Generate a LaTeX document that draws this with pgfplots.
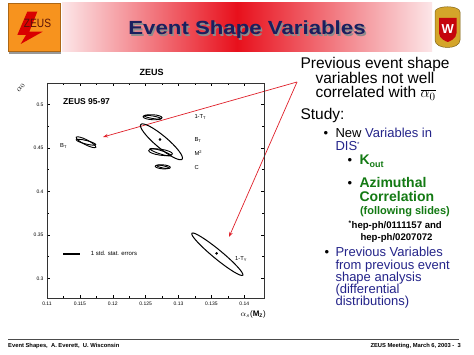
\documentclass[border=0pt]{standalone}
\usepackage{pgfplots}
\pgfplotsset{compat=1.18}
\usepackage{fontspec}
\setmainfont{Liberation Sans}
\usetikzlibrary{shapes.geometric,arrows.meta}
\definecolor{bannerpale}{HTML}{FCE6E8}
\definecolor{bannerred}{HTML}{E8101C}
\definecolor{titlenavy}{HTML}{1A1F5E}
\definecolor{txtnavy}{HTML}{24248A}
\definecolor{txtgreen}{HTML}{137A13}
\definecolor{zeusorange}{HTML}{F7931E}
\definecolor{zeustext}{HTML}{5A1208}
\definecolor{arrowred}{HTML}{E0202A}
\definecolor{uwgold}{HTML}{D4A52A}
\definecolor{uwred}{HTML}{C5050C}
\newcommand{\fs}[1]{\fontsize{#1}{#1}\selectfont}
\begin{document}
\begin{tikzpicture}
\begin{scope}[x=1pt,y=-1pt]
\useasboundingbox (0,0) rectangle (474,355);
\fill[white] (0,0) rectangle (474,355);
% banner
\shade[left color=bannerpale, right color=bannerred] (62,3) rectangle (237,52);
\shade[left color=bannerred, right color=bannerpale] (237,3) rectangle (432,52);
% title
\node[anchor=base, text=black!45] at (248.5,36.2) {\scalebox{1.17}[1]{\fs{19}\bfseries Event Shape Variables}};
\node[anchor=base, text=titlenavy] at (247,34.7) {\scalebox{1.17}[1]{\fs{19}\bfseries Event Shape Variables}};
% ZEUS logo
\fill[black!40] (9,50) rectangle (61,54);
\fill[zeusorange] (8,3) rectangle (60,51);
\draw[zeusorange!70!black, line width=0.4] (8,3) rectangle (60,51);
\fill[red!85!black] (27.3,11.7) -- (37.3,11.7) -- (29.3,31.7) -- (42.7,31.7) -- (20.7,44) -- (26,35) -- (17.3,35) -- cycle;
\node[text=zeustext] at (37.5,23.5) {\scalebox{0.85}[1]{\fs{12}ZEUS}};
% UW crest
\fill[uwgold] (435,12) .. controls (435,5) and (460,5) .. (460,12) -- (460,40) .. controls (460,50) and (435,50) .. (435,40) -- cycle;
\draw[uwgold!60!black, line width=0.5] (435,12) .. controls (435,5) and (460,5) .. (460,12) -- (460,40) .. controls (460,50) and (435,50) .. (435,40) -- cycle;
\fill[uwred] (439,18) -- (456.5,18) -- (456.5,33) .. controls (456.5,39) and (449,41.5) .. (447.7,42) .. controls (446.5,41.5) and (439,39) .. (439,33) -- cycle;
\node[text=white] at (447.7,29) {\fs{13}\bfseries W};
% right-hand text
\node[anchor=base west] at (297,69) {\fs{15.5}Previous event shape};
\node[anchor=base west] at (312,83.5) {\fs{15.5}variables not well};
\node[anchor=base west] at (312,98) {\fs{15.5}correlated with $\overline{\alpha_0}$};
\node[anchor=base west] at (297,120) {\fs{15.5}Study:};
\node[anchor=base west] at (320,138) {\fs{13}•};
\node[anchor=base west] at (332,138) {\fs{13}New \textcolor{txtnavy}{Variables in}};
\node[anchor=base west, text=txtnavy] at (332,150.5) {\fs{13}DIS\textsuperscript{\fs{6}*}};
\node[anchor=base west] at (344,165) {\fs{13}•};
\node[anchor=base west, text=txtgreen] at (356,165) {\fs{14}\bfseries K\textsubscript{\fs{9}out}};
\node[anchor=base west] at (344,188) {\fs{13}•};
\node[anchor=base west, text=txtgreen] at (356,188) {\fs{14}\bfseries Azimuthal};
\node[anchor=base west, text=txtgreen] at (356,202) {\fs{14}\bfseries Correlation};
\node[anchor=base west, text=txtgreen] at (356.5,215) {\fs{11}\bfseries (following slides)};
\node[anchor=base west] at (345,229) {\fs{9.6}\bfseries \textsuperscript{*}hep-ph/0111157 and};
\node[anchor=base west] at (357,240.5) {\fs{9.6}\bfseries hep-ph/0207072};
\node[anchor=base west] at (321,257) {\fs{13}•};
\node[anchor=base west, text=txtnavy] at (332,257) {\fs{13}Previous Variables};
\node[anchor=base west, text=txtnavy] at (332,270) {\fs{13}from previous event};
\node[anchor=base west, text=txtnavy] at (332,282) {\fs{13}shape analysis};
\node[anchor=base west, text=txtnavy] at (332,294) {\fs{13}(differential};
\node[anchor=base west, text=txtnavy] at (332,305.5) {\fs{13}distributions)};
% footer
\draw[black!70, line width=0.8] (8,339) -- (459,339);
\node[anchor=base west, inner sep=0] at (8,348) {\fs{5.8}\bfseries Event Shapes,\ \ A. Everett,\ \ U. Wisconsin};
\node[anchor=base east, inner sep=0] at (461,348) {\fs{5.8}\bfseries ZEUS Meeting, March 6, 2003 -\ \ 3};
% chart texts
\node[anchor=base, inner sep=0] at (151.7,75.7) {\fs{9}\bfseries ZEUS};
\node[anchor=base west, inner sep=0] at (63,105) {\fs{8.5}\bfseries ZEUS 95-97};
\node[anchor=base west, inner sep=0] at (60,147.5) {\fs{5.8}B\textsubscript{\fs{4}T}};
\node[anchor=base west, inner sep=0] at (194.3,118.3) {\fs{5.8}1-T\textsubscript{\fs{4}T}};
\node[anchor=base west, inner sep=0] at (194.3,141.3) {\fs{5.8}B\textsubscript{\fs{4}T}};
\node[anchor=base west, inner sep=0] at (194.3,155.7) {\fs{5.8}M\textsuperscript{\fs{4}2}};
\node[anchor=base west, inner sep=0] at (194.3,169.3) {\fs{5.8}C};
\node[anchor=base west, inner sep=0] at (235,261) {\fs{5.8}1-T\textsubscript{\fs{4}Y}};
\draw[line width=1.1pt] (63,254) -- (80,254);
\node[anchor=base west, inner sep=0] at (90.7,255.7) {\fs{6}1 std. stat. errors};
\node[rotate=60, inner sep=0] at (21,88) {\fs{8}$\alpha_0$};
\node[anchor=base west, inner sep=0] at (240.5,316.5) {\fs{8}$\alpha_s$(\textbf{M\textsubscript{\fs{5}Z}})};
% arrows
\draw[arrowred, line width=0.7, -{Stealth[length=5pt,width=3.5pt]}] (297,82) -- (103,137);
\draw[arrowred, line width=0.7, -{Stealth[length=5pt,width=3.5pt]}] (297,82) -- (229,237);
\end{scope}
\begin{axis}[
  at={(47pt,-298pt)}, anchor=south west,
  scale only axis, width=217.1pt, height=215pt,
  xmin=0.11, xmax=0.143, ymin=0.2774, ymax=0.5245,
  xtick={0.11,0.115,0.12,0.125,0.13,0.135,0.14},
  xticklabels={0.11,0.115,0.12,0.125,0.13,0.135,0.14},
  ytick={0.3,0.35,0.4,0.45,0.5},
  yticklabels={0.3,0.35,0.4,0.45,0.5},
  minor x tick num=1, minor y tick num=1,
  tick align=inside,
  major tick length=3pt, minor tick length=1.8pt,
  tick style={black, line width=0.5pt},
  axis line style={line width=0.8pt, black!80},
  ticklabel style={font=\fontsize{5}{6}\selectfont},
  /pgf/number format/assume math mode=true,
]
\addplot[only marks, mark=*, mark size=1.1pt, black] coordinates {(0.12717,0.45954) (0.13578,0.32874)};
% error ellipses
\node[draw, ellipse, inner sep=0pt, minimum width=22pt, minimum height=5pt, rotate=-27, line width=0.9pt] at (axis cs:0.11593,0.45644) {};
\node[draw, ellipse, inner sep=0pt, minimum width=20pt, minimum height=3.5pt, rotate=-14, line width=0.9pt] at (axis cs:0.11593,0.45644) {};
\node[draw, ellipse, inner sep=0pt, minimum width=19pt, minimum height=5pt, rotate=-3, line width=0.9pt] at (axis cs:0.12605,0.48517) {};
\node[draw, ellipse, inner sep=0pt, minimum width=17pt, minimum height=2.5pt, rotate=-10, line width=0.9pt] at (axis cs:0.12605,0.48517) {};
\node[draw, ellipse, inner sep=0pt, minimum width=54pt, minimum height=12pt, rotate=-40, line width=1pt] at (axis cs:0.12740,0.45690) {};
\node[draw, ellipse, inner sep=0pt, minimum width=24pt, minimum height=6pt, rotate=-8, line width=0.9pt] at (axis cs:0.12726,0.44494) {};
\node[draw, ellipse, inner sep=0pt, minimum width=22pt, minimum height=3.5pt, rotate=-18, line width=0.9pt] at (axis cs:0.12726,0.44494) {};
\node[draw, ellipse, inner sep=0pt, minimum width=15pt, minimum height=4pt, rotate=-4, line width=0.9pt] at (axis cs:0.12760,0.42816) {};
\node[draw, ellipse, inner sep=0pt, minimum width=13pt, minimum height=2.2pt, rotate=-12, line width=0.9pt] at (axis cs:0.12760,0.42816) {};
\node[draw, ellipse, inner sep=0pt, minimum width=66pt, minimum height=9pt, rotate=-39.5, line width=1pt] at (axis cs:0.13589,0.32770) {};
\end{axis}
\end{tikzpicture}
\end{document}
